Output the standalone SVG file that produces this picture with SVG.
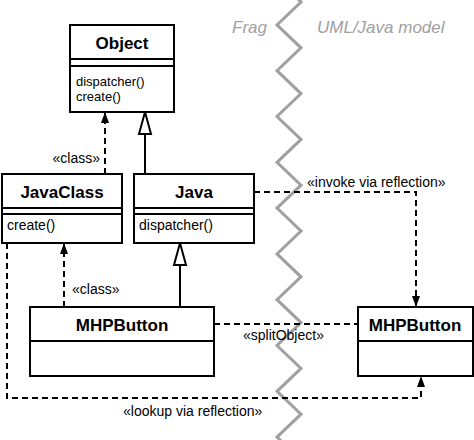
<svg xmlns="http://www.w3.org/2000/svg" width="474" height="440" viewBox="0 0 474 440">
<style>
.box{fill:#fff;stroke:#000;stroke-width:2}
.ln{fill:none;stroke:#000;stroke-width:2}
.dash{fill:none;stroke:#000;stroke-width:2;stroke-dasharray:6 4}
.name{font-family:"Liberation Sans",Arial,sans-serif;font-weight:bold;font-size:17px;text-anchor:middle}
.op{font-family:"Liberation Sans",Arial,sans-serif;font-size:14px}
.op2{font-family:"Liberation Sans",Arial,sans-serif;font-size:13px}
.lbl{font-family:"Liberation Sans",Arial,sans-serif;font-size:14px}
.gray{font-family:"Liberation Sans",Arial,sans-serif;font-style:italic;font-size:17px;fill:#a0a0a0}
</style>
<defs>
<marker id="arr" markerUnits="userSpaceOnUse" viewBox="0 0 11 8" refX="11" refY="4" markerWidth="11" markerHeight="8" orient="auto" overflow="visible">
<path d="M0,0 L11,4 L0,8 z" fill="#000"/>
</marker>
<marker id="tri" markerUnits="userSpaceOnUse" viewBox="0 0 22 12" refX="22" refY="6" markerWidth="22" markerHeight="12" orient="auto" overflow="visible">
<path d="M0,0 L22,6 L0,12 z" fill="#fff" stroke="#000" stroke-width="2"/>
</marker>
</defs>
<rect width="474" height="440" fill="#fff"/>
<g id="divider">
<polyline fill="none" stroke="#a0a0a0" stroke-width="3" points="277,-20.9 301,2 277,24.9 301,47.8 277,70.7 301,93.6 277,116.5 301,139.4 277,162.3 301,185.2 277,208.1 301,231 277,253.9 301,276.8 277,299.7 301,322.6 277,345.5 301,368.4 277,391.3 301,414.2 277,437.1 301,460"/>
<text class="gray" x="232" y="33">Frag</text>
<text class="gray" x="317" y="33">UML/Java model</text>
</g>
<g id="connectors">
<path class="dash" d="M105,174 L105,112" marker-end="url(#arr)"/>
<path class="ln" d="M145,174 L145,112" marker-end="url(#tri)"/>
<path class="dash" d="M254,192 L416,192 L416,307" marker-end="url(#arr)"/>
<path class="dash" d="M64,307 L64,243" marker-end="url(#arr)"/>
<path class="ln" d="M180,307 L180,243" marker-end="url(#tri)"/>
<path class="dash" d="M214,324 L358,324"/>
<path class="dash" d="M7,243 L7,398 L421,398 L421,376" marker-end="url(#arr)"/>
<text class="lbl" x="100" y="163" text-anchor="end">«class»</text>
<text class="lbl" x="72" y="294">«class»</text>
<text class="lbl" x="307" y="187">«invoke via reflection»</text>
<text class="lbl" x="243" y="340">«splitObject»</text>
<text class="lbl" x="123" y="416">«lookup via reflection»</text>
</g>
<g id="Object">
<rect class="box" x="70" y="25" width="104" height="87"/>
<line class="ln" x1="70" y1="59" x2="174" y2="59"/>
<line class="ln" x1="70" y1="66" x2="174" y2="66"/>
<text class="name" x="122" y="49">Object</text>
<text class="op2" x="76" y="86">dispatcher()</text>
<text class="op2" x="76" y="101">create()</text>
</g>
<g id="JavaClass">
<rect class="box" x="2" y="174" width="120" height="69"/>
<line class="ln" x1="2" y1="208" x2="122" y2="208"/>
<line class="ln" x1="2" y1="214" x2="122" y2="214"/>
<text class="name" x="62" y="198">JavaClass</text>
<text class="op" x="7" y="230">create()</text>
</g>
<g id="Java">
<rect class="box" x="134" y="174" width="120" height="69"/>
<line class="ln" x1="134" y1="208" x2="254" y2="208"/>
<line class="ln" x1="134" y1="214" x2="254" y2="214"/>
<text class="name" x="194" y="198">Java</text>
<text class="op" x="139" y="230">dispatcher()</text>
</g>
<g id="MHPButtonLeft">
<rect class="box" x="30" y="307" width="184" height="69"/>
<line class="ln" x1="30" y1="341" x2="214" y2="341"/>
<text class="name" x="122" y="331">MHPButton</text>
</g>
<g id="MHPButtonRight">
<rect class="box" x="358" y="307" width="115" height="69"/>
<line class="ln" x1="358" y1="341" x2="473" y2="341"/>
<text class="name" x="415" y="331">MHPButton</text>
</g>
</svg>
